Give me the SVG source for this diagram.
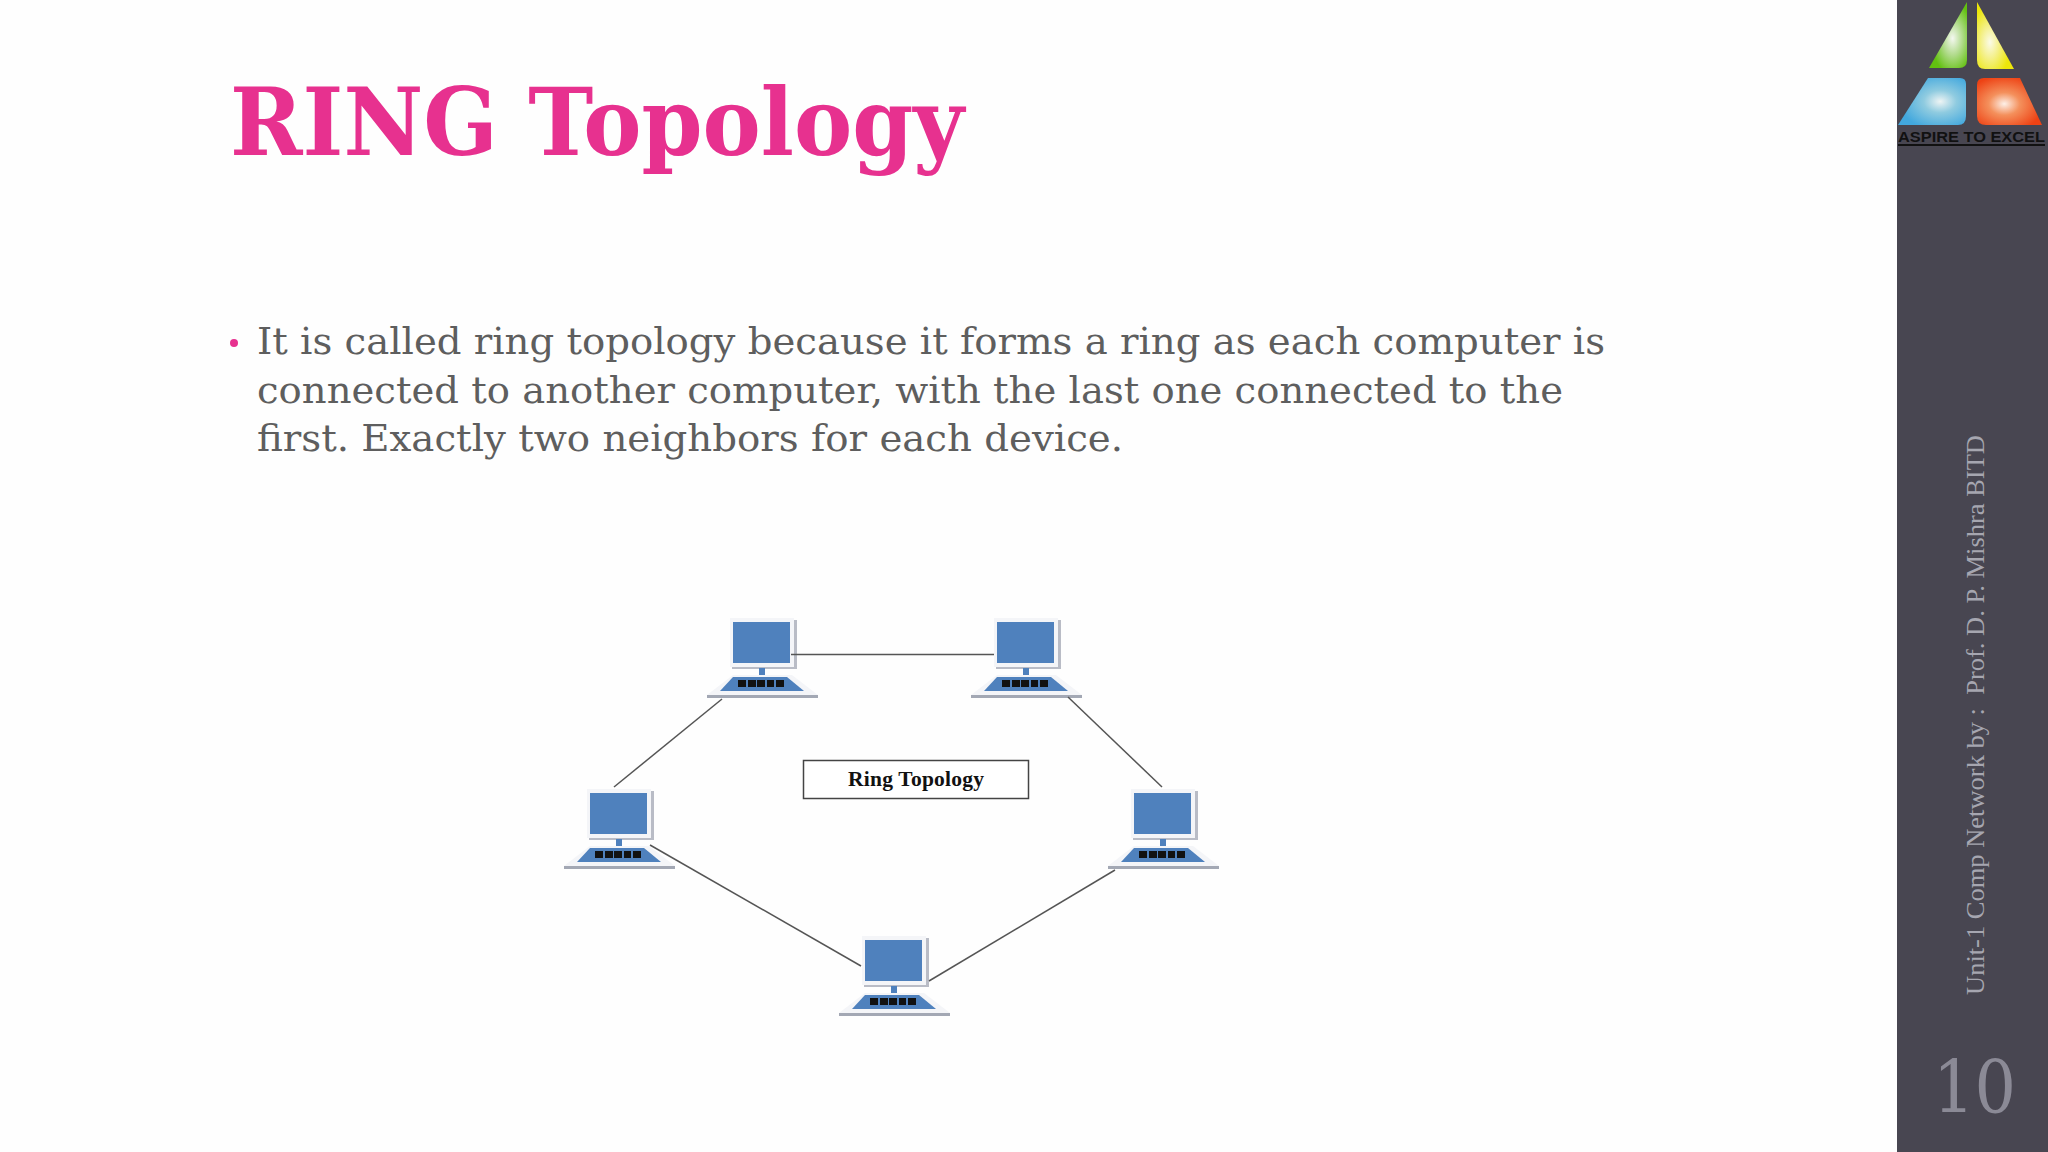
<svg xmlns="http://www.w3.org/2000/svg" xmlns:xlink="http://www.w3.org/1999/xlink" width="2048" height="1152" viewBox="0 0 2048 1152">
<style>
.body{font-family:"DejaVu Serif","Liberation Serif",serif;font-size:38px;fill:#5e5e5e}
.wire{stroke:#555;stroke-width:1.5;fill:none}
.logo{stroke:none}
.key{fill:#111}
</style>
<defs>
<radialGradient id="gG" cx="0.62" cy="0.55" r="0.55"><stop offset="0" stop-color="#f4f8f0"/><stop offset="0.45" stop-color="#b4dc90"/><stop offset="1" stop-color="#62c010"/></radialGradient>
<radialGradient id="gY" cx="0.35" cy="0.6" r="0.55"><stop offset="0" stop-color="#fbfbe8"/><stop offset="0.45" stop-color="#f4f088"/><stop offset="1" stop-color="#ece60a"/></radialGradient>
<radialGradient id="gB" cx="0.62" cy="0.5" r="0.6"><stop offset="0" stop-color="#eef4f4"/><stop offset="0.4" stop-color="#8fcbe0"/><stop offset="1" stop-color="#42a8de"/></radialGradient>
<radialGradient id="gR" cx="0.42" cy="0.55" r="0.6"><stop offset="0" stop-color="#fdf0e8"/><stop offset="0.4" stop-color="#f4905c"/><stop offset="1" stop-color="#ee4214"/></radialGradient>
<g id="pc">
<rect x="732" y="620" width="65" height="49" fill="#b9bcc6"/>
<rect x="730" y="618" width="64" height="49" fill="#f4f5f8"/>
<rect x="733" y="622" width="57" height="41" fill="#4f81bd"/>
<rect x="759" y="668" width="6" height="8" fill="#4f81bd"/>
<polygon points="733,675 792,675 818,695 707,695" fill="#f4f5f8"/>
<rect x="707" y="695" width="111" height="3" fill="#a3a8b4"/>
<polygon points="733,677 787,677 804,691 720,691" fill="#4f81bd"/>
<rect class="key" x="738" y="680" width="8" height="7"/>
<rect class="key" x="748" y="680" width="8" height="7"/>
<rect class="key" x="757" y="680" width="8" height="7"/>
<rect class="key" x="767" y="680" width="7" height="7"/>
<rect class="key" x="776" y="680" width="8" height="7"/>
</g>
</defs>
<rect width="2048" height="1152" fill="#fefefe"/>
<text x="230" y="155" font-family="'DejaVu Serif','Liberation Serif',serif" font-weight="700" font-size="93" fill="#e7318f" textLength="734" lengthAdjust="spacingAndGlyphs">RING Topology</text>
<circle cx="234" cy="343" r="4" fill="#e7318f"/>
<text class="body" x="257" y="353.500" textLength="1348" lengthAdjust="spacingAndGlyphs">It is called ring topology because it forms a ring as each computer is</text>
<text class="body" x="257" y="402.500" textLength="1306" lengthAdjust="spacingAndGlyphs">connected to another computer, with the last one connected to the</text>
<text class="body" x="257" y="450.500" textLength="866" lengthAdjust="spacingAndGlyphs">first. Exactly two neighbors for each device.</text>
<g id="pc-top-left"><use href="#pc"/></g>
<g id="pc-top-right"><use href="#pc" x="264"/></g>
<g id="pc-left"><use href="#pc" x="-143" y="171"/></g>
<g id="pc-right"><use href="#pc" x="401" y="171"/></g>
<g id="pc-bottom"><use href="#pc" x="132" y="318"/></g>
<g id="connectors">
<line class="wire" x1="791" y1="654.500" x2="994" y2="654.500"/>
<line class="wire" x1="722" y1="699" x2="614" y2="787"/>
<line class="wire" x1="1068" y1="697" x2="1162" y2="787"/>
<line class="wire" x1="650" y1="845" x2="861" y2="966"/>
<line class="wire" x1="1115" y1="870" x2="929" y2="981"/>
</g>
<g id="label">
<rect x="803.500" y="760.500" width="225" height="38" fill="#fff" stroke="#444" stroke-width="1.500"/>
<text x="916" y="786" text-anchor="middle" textLength="136" lengthAdjust="spacing" font-family="'Liberation Serif',serif" font-weight="700" font-size="21.500" fill="#111">Ring Topology</text>
</g>
<rect x="1897" y="0" width="151" height="1152" fill="#484651"/>
<g id="logo">
<path class="logo" d="M1967,2 L1967,60 Q1967,68 1959,68 L1929,68 Z" fill="url(#gG)"/>
<path class="logo" d="M1977,2 L2014,69 L1985,69 Q1977,69 1977,60 Z" fill="url(#gY)"/>
<path class="logo" d="M1928,78 L1960,78 Q1966,78 1966,84 L1966,116 Q1966,125 1958,125 L1898,125 Z" fill="url(#gB)"/>
<path class="logo" d="M1984,78 L2020,78 L2042,125 L1986,125 Q1977,125 1977,116 L1977,85 Q1977,78 1984,78 Z" fill="url(#gR)"/>
<text x="1898" y="141.500" textLength="147" lengthAdjust="spacingAndGlyphs" font-family="'Liberation Sans',sans-serif" font-weight="700" font-size="14.500" fill="#111">ASPIRE TO EXCEL</text>
<rect x="1898" y="144" width="147" height="2" fill="#111"/>
</g>
<text transform="translate(1984,995) rotate(-90)" textLength="560" lengthAdjust="spacingAndGlyphs" font-family="'Liberation Serif',serif" font-size="25" fill="#a6a6b0">Unit-1 Comp Network by : &#160;Prof. D. P. Mishra BITD</text>
<text x="1933" y="1113" textLength="83" lengthAdjust="spacingAndGlyphs" font-family="'DejaVu Serif','Liberation Serif',serif" font-size="72" fill="#8b8a96">10</text>
</svg>
